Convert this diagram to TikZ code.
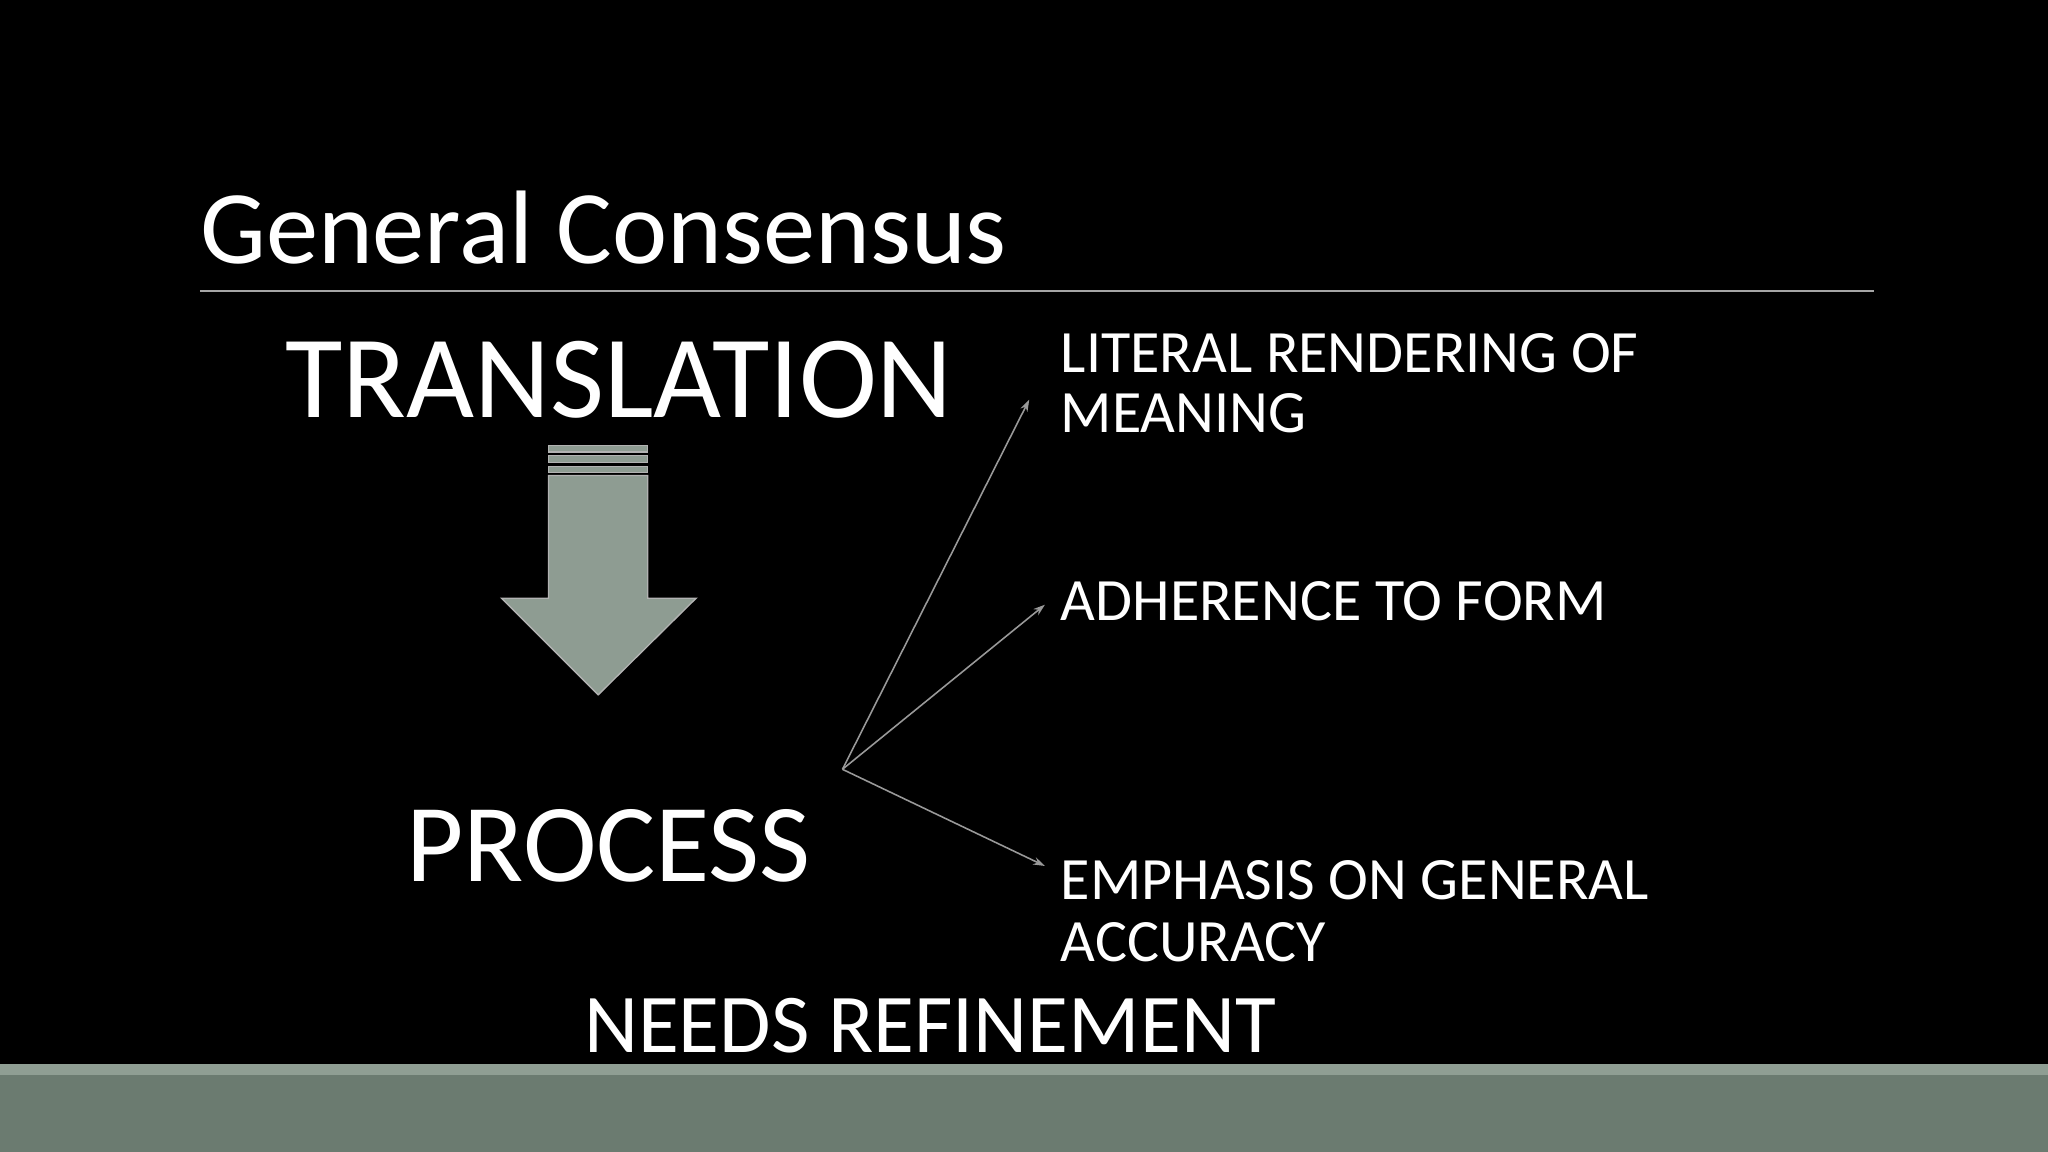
\documentclass[tikz,border=0pt]{standalone}
\usepackage{fontspec}
\setmainfont{Carlito}
\usetikzlibrary{arrows.meta}
\definecolor{band}{HTML}{6B7B70}
\definecolor{bandlight}{HTML}{8F9E93}
\definecolor{arrowfill}{HTML}{8E9C92}
\tikzset{
  txt/.style={anchor=base west,text=white,inner sep=0pt},
  conn/.style={draw=gray!80,line width=1.2pt,-{Stealth[length=9pt,width=6pt]}}
}
\begin{document}
\begin{tikzpicture}[x=1pt,y=-1pt]
\useasboundingbox (0,0) rectangle (1568,882);
\fill[black] (0,0) rectangle (1568,882);
\fill[bandlight] (0,815) rectangle (1568,823);
\fill[band] (0,823) rectangle (1568,882);
\node[txt,font=\fontsize{80}{90}\selectfont] (title) at (153,202) {General Consensus};
\draw[gray!70,line width=1.2pt] (153,223) -- (1435,223);
\node[txt,font=\fontsize{90}{100}\selectfont] (trans) at (218,320) {TRANSLATION};
\node[txt,font=\fontsize{85}{95}\selectfont] (proc) at (311,675) {PROCESS};
\node[txt,font=\fontsize{64}{70}\selectfont] (needs) at (447,806) {NEEDS REFINEMENT};
\node[txt,font=\fontsize{46}{48}\selectfont] (lit1) at (812,285) {LITERAL RENDERING OF};
\node[txt,font=\fontsize{46}{48}\selectfont] (lit2) at (812,331) {MEANING};
\node[txt,font=\fontsize{46}{48}\selectfont] (adh) at (812,475) {ADHERENCE TO FORM};
\node[txt,font=\fontsize{46}{48}\selectfont] (emp1) at (812,689) {EMPHASIS ON GENERAL};
\node[txt,font=\fontsize{46}{48}\selectfont] (emp2) at (812,736) {ACCURACY};
% block arrow
\begin{scope}[fill=arrowfill,draw=gray!60,line width=1pt]
\filldraw (420,341) rectangle (496,346);
\filldraw (420,349) rectangle (496,354);
\filldraw (420,357) rectangle (496,362);
\filldraw (420,364) -- (496,364) -- (496,458) -- (533,458) -- (458,532) -- (384,458) -- (420,458) -- cycle;
\end{scope}
\coordinate (hub) at (645,589);
\coordinate (t1) at (788,306);
\coordinate (t2) at (800,463);
\coordinate (t3) at (800,663);
\draw[conn] (hub) -- (t1);
\draw[conn] (hub) -- (t2);
\draw[conn] (hub) -- (t3);
\end{tikzpicture}
\end{document}
